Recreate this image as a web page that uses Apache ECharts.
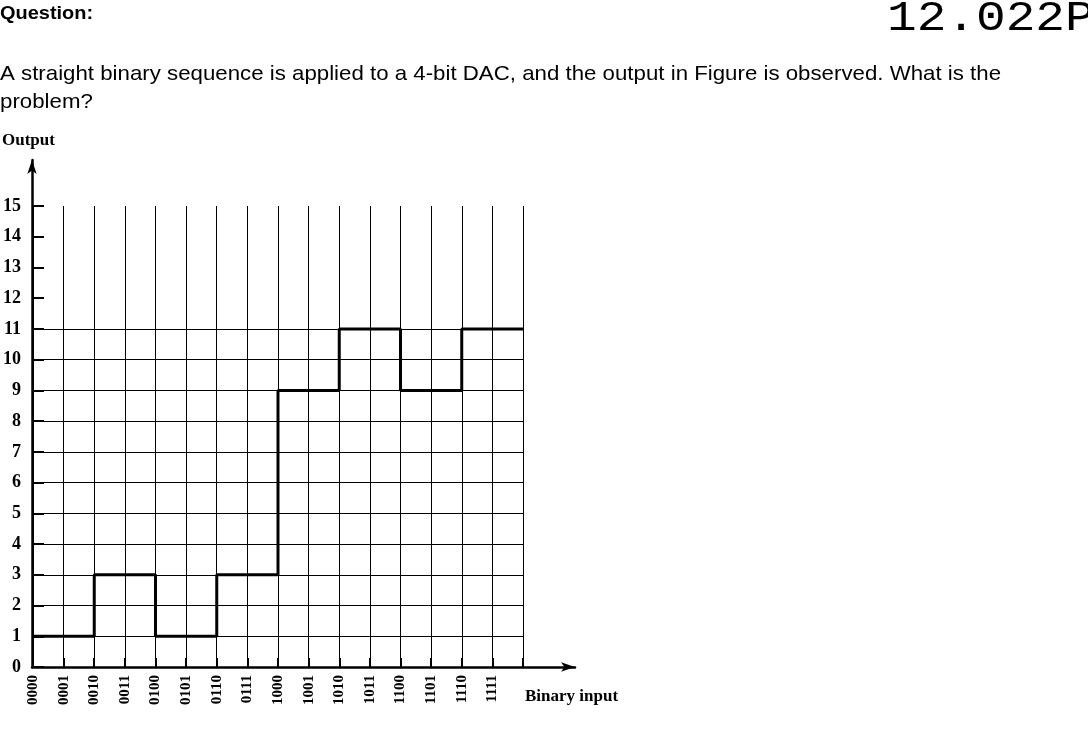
<!DOCTYPE html><html><head><meta charset="utf-8"><script src="https://cdn.jsdelivr.net/npm/echarts@6/dist/echarts.min.js"></script>
<style>body{margin:0;background:#fff}#c{width:1088px;height:734px}</style></head><body><div id="c"></div><script>
const codes=['0000','0001','0010','0011','0100','0101','0110','0111','1000','1001','1010','1011','1100','1101','1110','1111'];
const outputs=[1,1,3,3,1,1,3,3,9,9,11,11,9,9,11,11];
const yTicks=[0,1,2,3,4,5,6,7,8,9,10,11,12,13,14,15];
const data=codes.map((c,i)=>[i,outputs[i]]);data.push([16,outputs[15]]);
const serif='"Liberation Serif","DejaVu Serif",serif';
const sans='"Liberation Sans",Arial,sans-serif';
const hColors=yTicks.map(v=>v<=11?'#000':'rgba(0,0,0,0)');
const chart=echarts.init(document.getElementById('c'));
chart.setOption({animation:false,
graphic:[
{type:'text',x:0,y:4,scaleX:1.05,style:{text:'Question:',font:'bold 19px '+sans,fill:'#000'}},
{type:'text',x:887,y:-3,scaleX:1.15,style:{text:'12.022P',font:'normal 43px "Liberation Mono","DejaVu Sans Mono",monospace',fill:'#000'}},
{type:'text',x:0,y:60,scaleX:1.06,style:{text:'A straight binary sequence is applied to a 4-bit DAC, and the output in Figure is observed. What is the\nproblem?',font:'normal 21px '+sans,fill:'#000',lineHeight:28}},
{type:'text',x:2,y:132,style:{text:'Output',font:'bold 17px '+serif,fill:'#000'}},
{type:'text',x:525,y:688,style:{text:'Binary input',font:'bold 17px '+serif,fill:'#000'}}],
grid:[{left:32,top:206,width:491,height:461},{left:32,top:160,width:543,height:507}],
xAxis:[{type:'value',gridIndex:0,min:0,max:16,interval:1,
 axisLine:{show:false},axisTick:{inside:true,length:9,lineStyle:{color:'#000',width:2}},
 splitLine:{show:true,lineStyle:{color:'#000',width:1}},
 axisLabel:{rotate:90,margin:8,fontFamily:serif,fontWeight:'bold',fontSize:15,color:'#000',formatter:v=>codes[v]||''}},
 {type:'value',gridIndex:1,min:0,max:1,axisLine:{lineStyle:{color:'#000',width:2.5},symbol:['none','arrow'],symbolSize:[7,14]},axisTick:{show:false},axisLabel:{show:false},splitLine:{show:false}}],
yAxis:[{type:'value',gridIndex:0,min:0,max:15,interval:1,
 axisLine:{show:false},axisTick:{inside:true,length:11,lineStyle:{color:'#000',width:2}},
 splitLine:{show:true,lineStyle:{color:hColors,width:1}},
 axisLabel:{margin:12,fontFamily:serif,fontWeight:'bold',fontSize:18,color:'#000',formatter:v=>yTicks[v]}},
 {type:'value',gridIndex:1,min:0,max:1,axisLine:{lineStyle:{color:'#000',width:2.5},symbol:['none','arrow'],symbolSize:[7,14]},axisTick:{show:false},axisLabel:{show:false},splitLine:{show:false}}],
series:[{type:'line',xAxisIndex:0,yAxisIndex:0,step:'end',data:data,showSymbol:false,lineStyle:{color:'#000',width:3}}]
});
</script></body></html>
